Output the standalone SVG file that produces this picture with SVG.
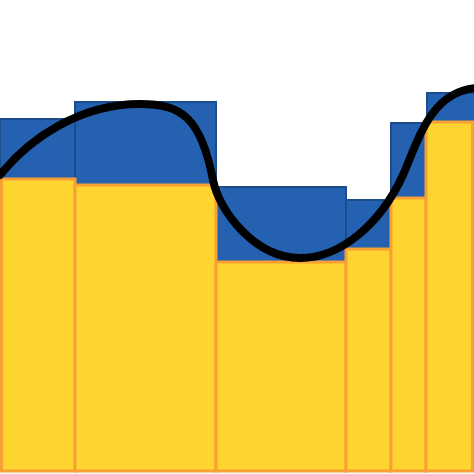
<svg xmlns="http://www.w3.org/2000/svg" width="474" height="474" viewBox="0 0 474 474">
<style>
.up{fill:#2461b0;stroke:#1b4c8c;stroke-width:2}
.lo{fill:#fed530;stroke:#f8a033;stroke-width:3}
.curve{fill:none;stroke:#000;stroke-width:8;stroke-linecap:round;stroke-linejoin:round}
</style>
<rect width="474" height="474" fill="#fff"/>
<g id="upper">
<rect class="up" x="0" y="119" width="75" height="300"/>
<rect class="up" x="75" y="102" width="141" height="300"/>
<rect class="up" x="216" y="187" width="130" height="200"/>
<rect class="up" x="346" y="200" width="45" height="200"/>
<rect class="up" x="391" y="123" width="36" height="200"/>
<rect class="up" x="427" y="93" width="48" height="200"/>
</g>
<g id="lower">
<rect class="lo" x="1.5" y="179" width="73.5" height="292"/>
<rect class="lo" x="75" y="185" width="141" height="286"/>
<rect class="lo" x="216" y="262" width="130" height="209"/>
<rect class="lo" x="346" y="249" width="45" height="222"/>
<rect class="lo" x="391" y="198" width="35" height="273"/>
<rect class="lo" x="426" y="122" width="46.5" height="349"/>
</g>
<g id="connectors">
<path class="curve" d="M0,175 C30,138 80,104 140,104 C182,104 201,118 213,180 C219,211 255,258 300,258 C340,258 380,225 403,175 C420,135 432,92 476,88"/>
</g>
</svg>
